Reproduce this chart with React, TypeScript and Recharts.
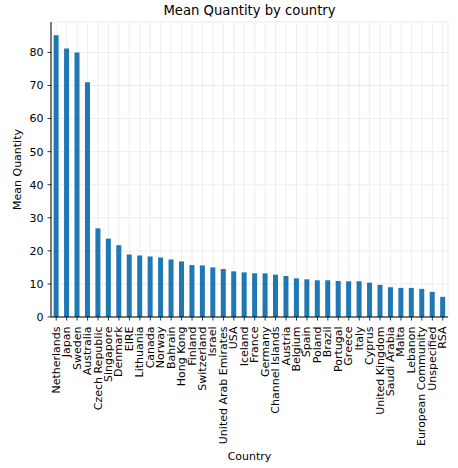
import React from 'react';
import { BarChart, Bar, XAxis, YAxis, CartesianGrid } from 'recharts';

const countries = [
  'Netherlands', 'Japan', 'Sweden', 'Australia', 'Czech Republic', 'Singapore', 'Denmark', 'EIRE',
  'Lithuania', 'Canada', 'Norway', 'Bahrain', 'Hong Kong', 'Finland', 'Switzerland', 'Israel',
  'United Arab Emirates', 'USA', 'Iceland', 'France', 'Germany', 'Channel Islands', 'Austria', 'Belgium',
  'Spain', 'Poland', 'Brazil', 'Portugal', 'Greece', 'Italy', 'Cyprus', 'United Kingdom',
  'Saudi Arabia', 'Malta', 'Lebanon', 'European Community', 'Unspecified', 'RSA',
];

const meanQuantity = [
  85.2, 81.2, 80.0, 71.0, 26.8, 23.7, 21.7, 18.9,
  18.6, 18.3, 18.0, 17.4, 16.8, 15.7, 15.6, 15.0,
  14.5, 13.8, 13.5, 13.2, 13.2, 12.8, 12.4, 11.7,
  11.4, 11.1, 11.1, 10.9, 10.8, 10.8, 10.4, 9.7,
  9.0, 8.8, 8.8, 8.5, 7.6, 6.1,
];

const yTicks = [0, 10, 20, 30, 40, 50, 60, 70, 80];

const data = countries.map((c, i) => ({ country: c, quantity: meanQuantity[i] }));

const FONT = '"DejaVu Sans", sans-serif';
const FS = 11;

// pandas-style rotated category labels, hanging down from the tick
const RotatedTick = ({ x, y, payload }: any) => (
  <g transform={`translate(${x},${y})`}>
    <text
      transform="rotate(-90)"
      x={0}
      y={0}
      textAnchor="end"
      dominantBaseline="central"
      fontSize={FS}
      fontFamily={FONT}
      fill="#000"
    >
      {payload.value}
    </text>
  </g>
);

const YLabel = ({ viewBox }: any) => {
  const cy = viewBox.y + viewBox.height / 2;
  return (
    <text
      x={17}
      y={cy}
      transform={`rotate(-90, 17, ${cy})`}
      textAnchor="middle"
      dominantBaseline="central"
      fontSize={FS}
      fontFamily={FONT}
      fill="#000"
    >
      Mean Quantity
    </text>
  );
};

export default function App() {
  return (
    <div style={{ position: 'absolute', left: 0, top: 0, width: 458, height: 468, background: '#fff' }}>
      <div
        style={{
          position: 'absolute',
          top: 2.8,
          left: 51,
          width: 397,
          textAlign: 'center',
          fontFamily: FONT,
          fontSize: 13.2,
          color: '#000',
        }}
      >
        Mean Quantity by country
      </div>
      <BarChart
        width={458}
        height={468}
        data={data}
        margin={{ top: 22, right: 10, left: 0, bottom: 0 }}
        barCategoryGap="25%"
      >
        <CartesianGrid stroke="#e8e8e8" strokeWidth={0.8} />
        <XAxis
          dataKey="country"
          interval={0}
          height={151}
          tick={<RotatedTick />}
          tickSize={3.5}
          tickMargin={6}
          axisLine={{ stroke: '#000', strokeWidth: 1 }}
          tickLine={{ stroke: '#000', strokeWidth: 0.8 }}
          label={{ value: 'Country', position: 'insideBottom', offset: 8, fontSize: FS, fontFamily: FONT, fill: '#000' }}
        />
        <XAxis
          xAxisId="top"
          dataKey="country"
          orientation="top"
          height={0}
          tick={false}
          tickLine={false}
          axisLine={{ stroke: '#000', strokeWidth: 1 }}
        />
        <YAxis
          domain={[0, 89.2]}
          ticks={yTicks}
          width={51}
          tickSize={3.5}
          tickMargin={4}
          tick={{ fontSize: FS, fontFamily: FONT, fill: '#000' }}
          axisLine={{ stroke: '#000', strokeWidth: 1 }}
          tickLine={{ stroke: '#000', strokeWidth: 0.8 }}
          label={<YLabel />}
        />
        <YAxis
          yAxisId="right"
          orientation="right"
          width={0}
          tick={false}
          tickLine={false}
          axisLine={{ stroke: '#000', strokeWidth: 1 }}
        />
        <Bar dataKey="quantity" fill="#1f77b4" isAnimationActive={false} />
      </BarChart>
    </div>
  );
}
